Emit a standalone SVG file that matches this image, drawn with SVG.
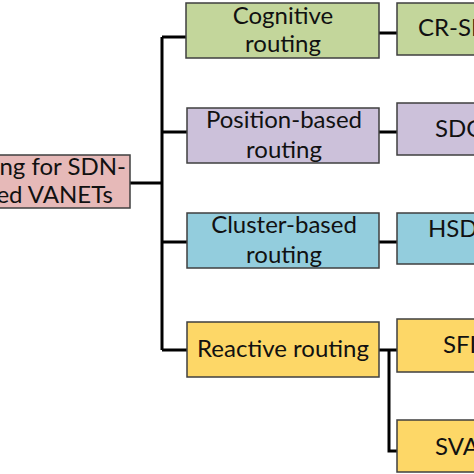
<svg xmlns="http://www.w3.org/2000/svg" width="474" height="474" viewBox="0 0 474 474">
<style>
.box{stroke:#3f3f3f;stroke-width:1.5}
.t{font-family:Lato,"Liberation Sans",sans-serif;font-size:24px;fill:#111;text-anchor:middle}
.te{font-family:Lato,"Liberation Sans",sans-serif;font-size:24px;fill:#111;text-anchor:end}
.ts{font-family:Lato,"Liberation Sans",sans-serif;font-size:24px;fill:#111}
.c{fill:none;stroke:#000;stroke-width:3}
.g{fill:#c3d69b}.p{fill:#ccc1da}.b{fill:#93cddd}.y{fill:#fdd767}.r{fill:#e6b9b8}
</style>
<rect width="474" height="474" fill="#fff"/>
<g id="connectors">
<path class="c" d="M130 183H162M162 37V350M162 37H186M162 132H187M162 242H187M162 350H187"/>
<path class="c" d="M379 33H397M379 132H397M379 242H397M379 350H397M389 350V451H397"/>
</g>
<g id="root">
<rect class="box r" x="-10" y="155" width="140" height="53"/>
<text class="te" x="126" y="175">Routing for SDN-</text>
<text class="te" x="113" y="203">based VANETs</text>
</g>
<g id="cognitive">
<rect class="box g" x="186" y="3" width="193" height="55"/>
<text class="t" x="283" y="24">Cognitive</text>
<text class="t" x="283" y="52">routing</text>
</g>
<g id="crsdvn">
<rect class="box g" x="397" y="3" width="90" height="52"/>
<text class="ts" x="418" y="36">CR-SD</text>
</g>
<g id="position">
<rect class="box p" x="187" y="108" width="192" height="55"/>
<text class="t" x="284" y="128">Position-based</text>
<text class="t" x="284" y="158">routing</text>
</g>
<g id="sdg">
<rect class="box p" x="397" y="103" width="90" height="52"/>
<text class="ts" x="435" y="137">SDG</text>
</g>
<g id="cluster">
<rect class="box b" x="187" y="213" width="192" height="55"/>
<text class="t" x="284" y="233">Cluster-based</text>
<text class="t" x="284" y="263">routing</text>
</g>
<g id="hsdv">
<rect class="box b" x="397" y="213" width="90" height="51"/>
<text class="ts" x="428" y="237">HSDV</text>
</g>
<g id="reactive">
<rect class="box y" x="187" y="322" width="192" height="55"/>
<text class="t" x="283" y="357">Reactive routing</text>
</g>
<g id="sfi">
<rect class="box y" x="397" y="319" width="90" height="53"/>
<text class="ts" x="443" y="353">SFI</text>
</g>
<g id="sva">
<rect class="box y" x="397" y="420" width="90" height="52"/>
<text class="ts" x="435" y="455">SVA</text>
</g>
</svg>
